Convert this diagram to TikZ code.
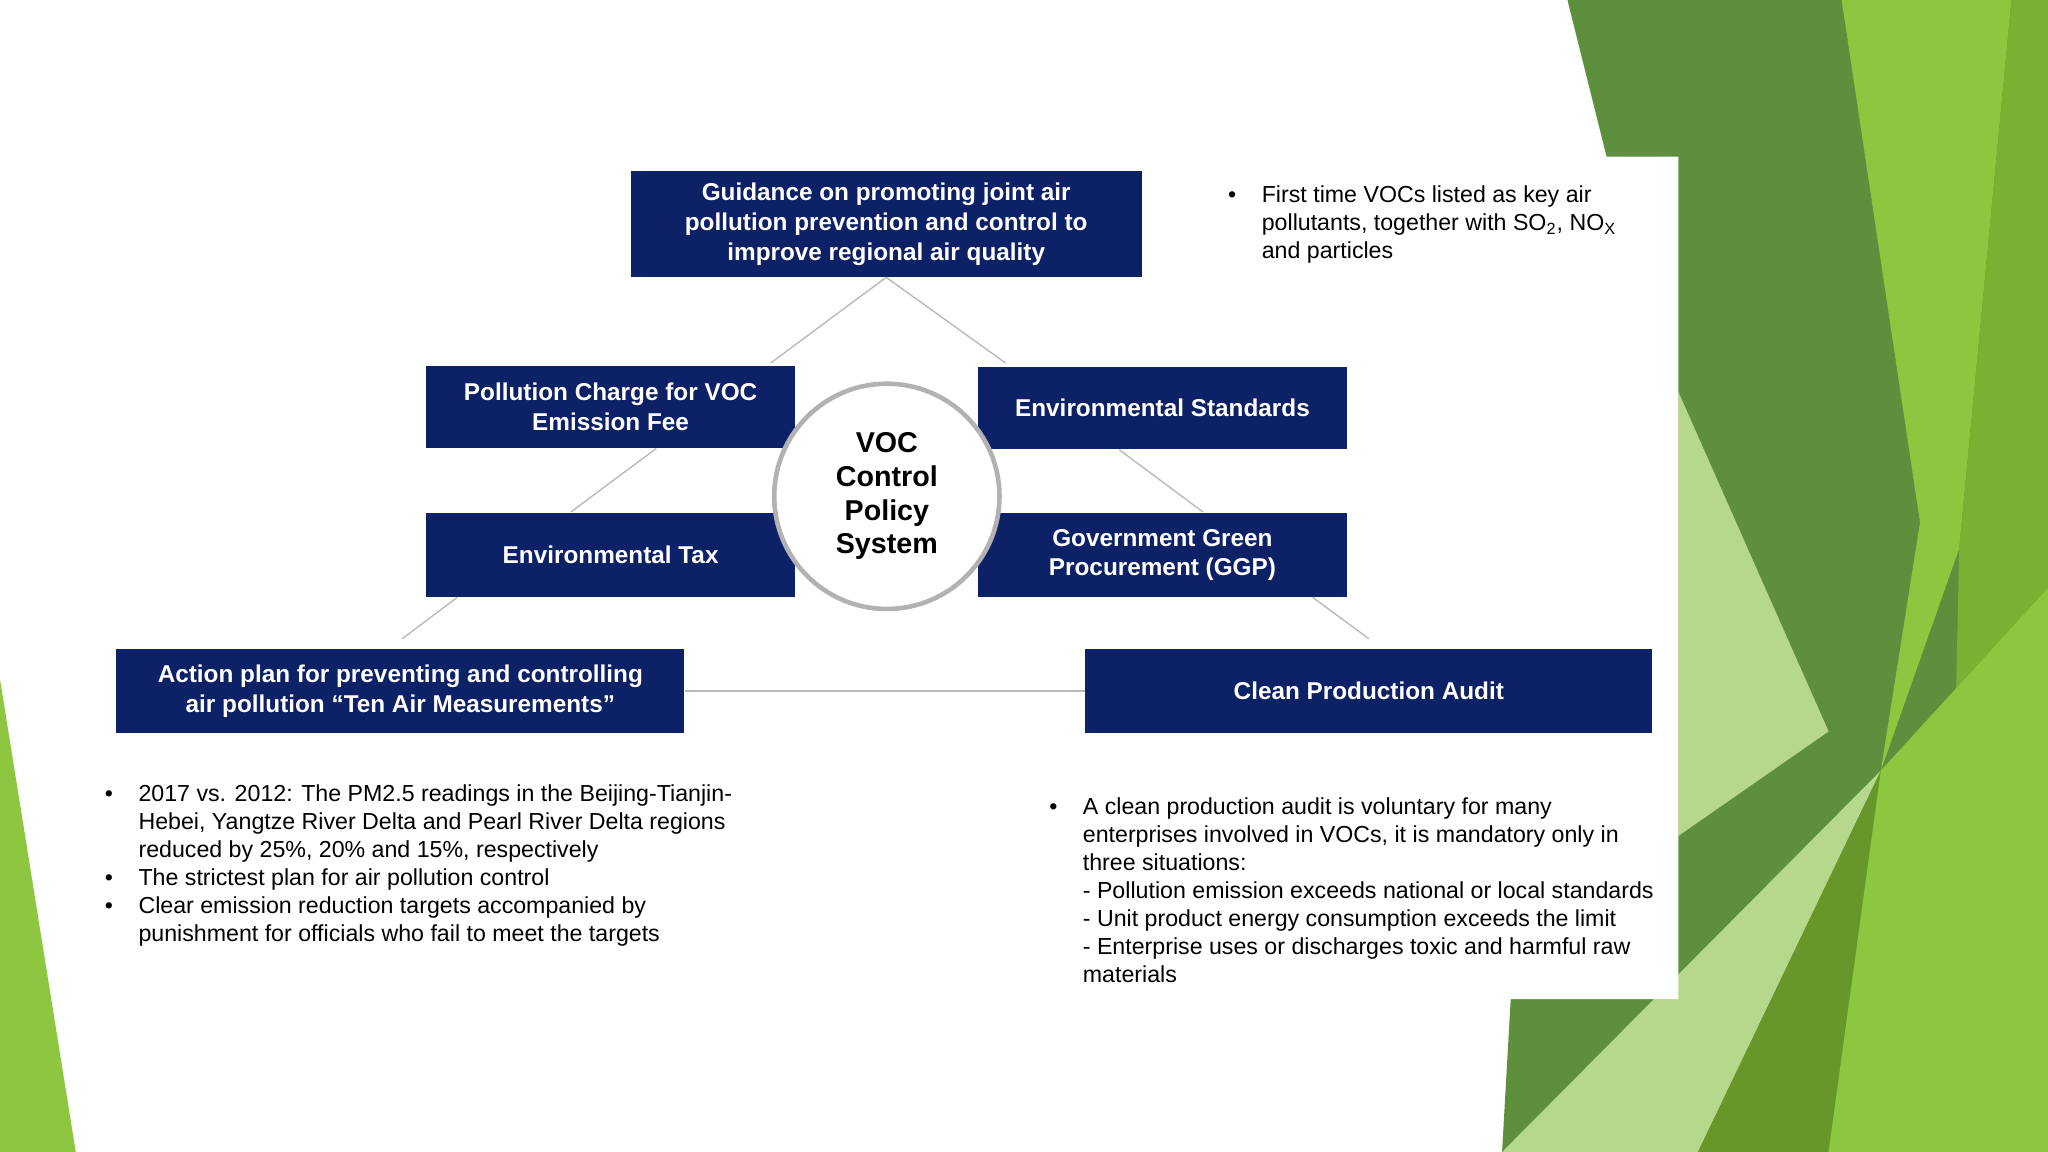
\documentclass[tikz,border=0pt]{standalone}
\usepackage{fontspec}
\setmainfont{Liberation Sans}
\usepackage{tikz}
\usetikzlibrary{positioning}
\definecolor{navy}{HTML}{0C2166}
\definecolor{leafA}{HTML}{5E8F3C}
\definecolor{leafB}{HTML}{8DC63F}
\definecolor{leafC}{HTML}{79B232}
\definecolor{leafD}{HTML}{B5D88A}
\tikzstyle{policy}=[draw=none, fill=navy, text=white, font=\bfseries\fontsize{10.6}{13}\selectfont, align=center, inner sep=0pt]
\tikzstyle{hub}=[draw=gray!60, line width=2pt, circle, fill=white, minimum size=3.45cm, align=center, font=\bfseries\fontsize{12.5}{14.7}\selectfont]
\tikzstyle{link}=[draw=gray!55, line width=0.6pt]
\tikzstyle{notes}=[align=left, anchor=north west, font=\fontsize{10.1}{12.2}\selectfont, inner sep=0pt]

\begin{document}
\begin{tikzpicture}[x=0.02cm, y=-0.02cm]
        \useasboundingbox (0,0) rectangle (1568,882);
        % background leaves
        \fill[white] (0,0) rectangle (1568,882);
        \fill[leafA] (1200,0) -- (1568,0) -- (1568,882) -- (1150,882) -- cycle;
        \fill[leafD] (1285,300) -- (1400,560) -- (1285,640) -- cycle;
        \fill[leafB] (1410,0) -- (1540,0) -- (1500,420) -- (1440,590) -- (1470,400) -- cycle;
        \fill[leafC] (1540,0) -- (1568,0) -- (1568,882) -- (1490,882) -- (1500,420) -- cycle;
        \fill[leafD] (1150,882) -- (1440,590) -- (1300,882) -- cycle;
        \fill[leafC!85!black] (1300,882) -- (1440,590) -- (1568,450) -- (1568,882) -- cycle;
        \fill[leafB] (1440,590) -- (1568,450) -- (1568,882) -- (1400,882) -- cycle;
        \fill[white] (0,0) -- (1200,0) -- (1230,120) -- (1285,120) -- (1285,765) -- (1140,765) -- (950,882) -- (0,882) -- cycle;
        \fill[leafB] (0,520) -- (58,882) -- (0,882) -- cycle;

        % policy boxes
        \node[policy, minimum width=7.82cm, minimum height=1.62cm] (guide) at (678.5,171.5) {Guidance on promoting joint air\\pollution prevention and control to\\improve regional air quality};
        \node[policy, minimum width=5.66cm, minimum height=1.26cm] (charge) at (467.5,311.5) {Pollution Charge for VOC\\Emission Fee};
        \node[policy, minimum width=5.64cm, minimum height=1.26cm] (standards) at (890,312.5) {Environmental Standards};
        \node[policy, minimum width=5.66cm, minimum height=1.28cm] (tax) at (467.5,425) {Environmental Tax};
        \node[policy, minimum width=5.64cm, minimum height=1.28cm] (ggp) at (890,425) {Government Green\\Procurement (GGP)};
        \node[policy, minimum width=8.70cm, minimum height=1.28cm] (action) at (306.5,529) {Action plan for preventing and controlling\\air pollution “Ten Air Measurements”};
        \node[policy, minimum width=8.68cm, minimum height=1.28cm] (audit) at (1048,529) {Clean Production Audit};

        % connectors
        \coordinate (gl) at (590,278); \coordinate (gr) at (770,278);
        \coordinate (cl) at (437,392); \coordinate (sr) at (921,392);
        \coordinate (tl) at (308,489); \coordinate (gg) at (1048,489);
        \draw[link] (guide.south) -- (gl); \draw[link] (guide.south) -- (gr);
        \draw[link] ([xshift=0.7cm]charge.south) -- (cl);
        \draw[link] ([xshift=-0.66cm]standards.south) -- (sr);
        \draw[link] ([xshift=-2.35cm]tax.south) -- (tl);
        \draw[link] ([xshift=2.3cm]ggp.south) -- (gg);
        \draw[link] (action.east) -- (audit.west);

        \node[hub] (voc) at (679,380) {VOC\\Control\\Policy\\System};

        % notes
        \node[notes] (n1) at (940,140) {\begin{tabular}{@{}l@{\hspace{1.1em}}l@{}}
          \textbullet & First time VOCs listed as key air\\
           & pollutants, together with SO\textsubscript{2}, NO\textsubscript{X}\\
           & and particles\end{tabular}};
        \node[notes] (n2) at (80,598) {\begin{tabular}{@{}l@{\hspace{1.1em}}l@{}}
          \textbullet & 2017 vs. 2012: The PM2.5 readings in the Beijing-Tianjin-\\
           & Hebei, Yangtze River Delta and Pearl River Delta regions\\
           & reduced by 25\%, 20\% and 15\%, respectively\\
          \textbullet & The strictest plan for air pollution control\\
          \textbullet & Clear emission reduction targets accompanied by\\
           & punishment for officials who fail to meet the targets\end{tabular}};
        \node[notes] (n3) at (803,608) {\begin{tabular}{@{}l@{\hspace{1.1em}}l@{}}
          \textbullet & A clean production audit is voluntary for many\\
           & enterprises involved in VOCs, it is mandatory only in\\
           & three situations:\\
           & - Pollution emission exceeds national or local standards\\
           & - Unit product energy consumption exceeds the limit\\
           & - Enterprise uses or discharges toxic and harmful raw\\
           & materials\end{tabular}};
    \end{tikzpicture}
\end{document}
